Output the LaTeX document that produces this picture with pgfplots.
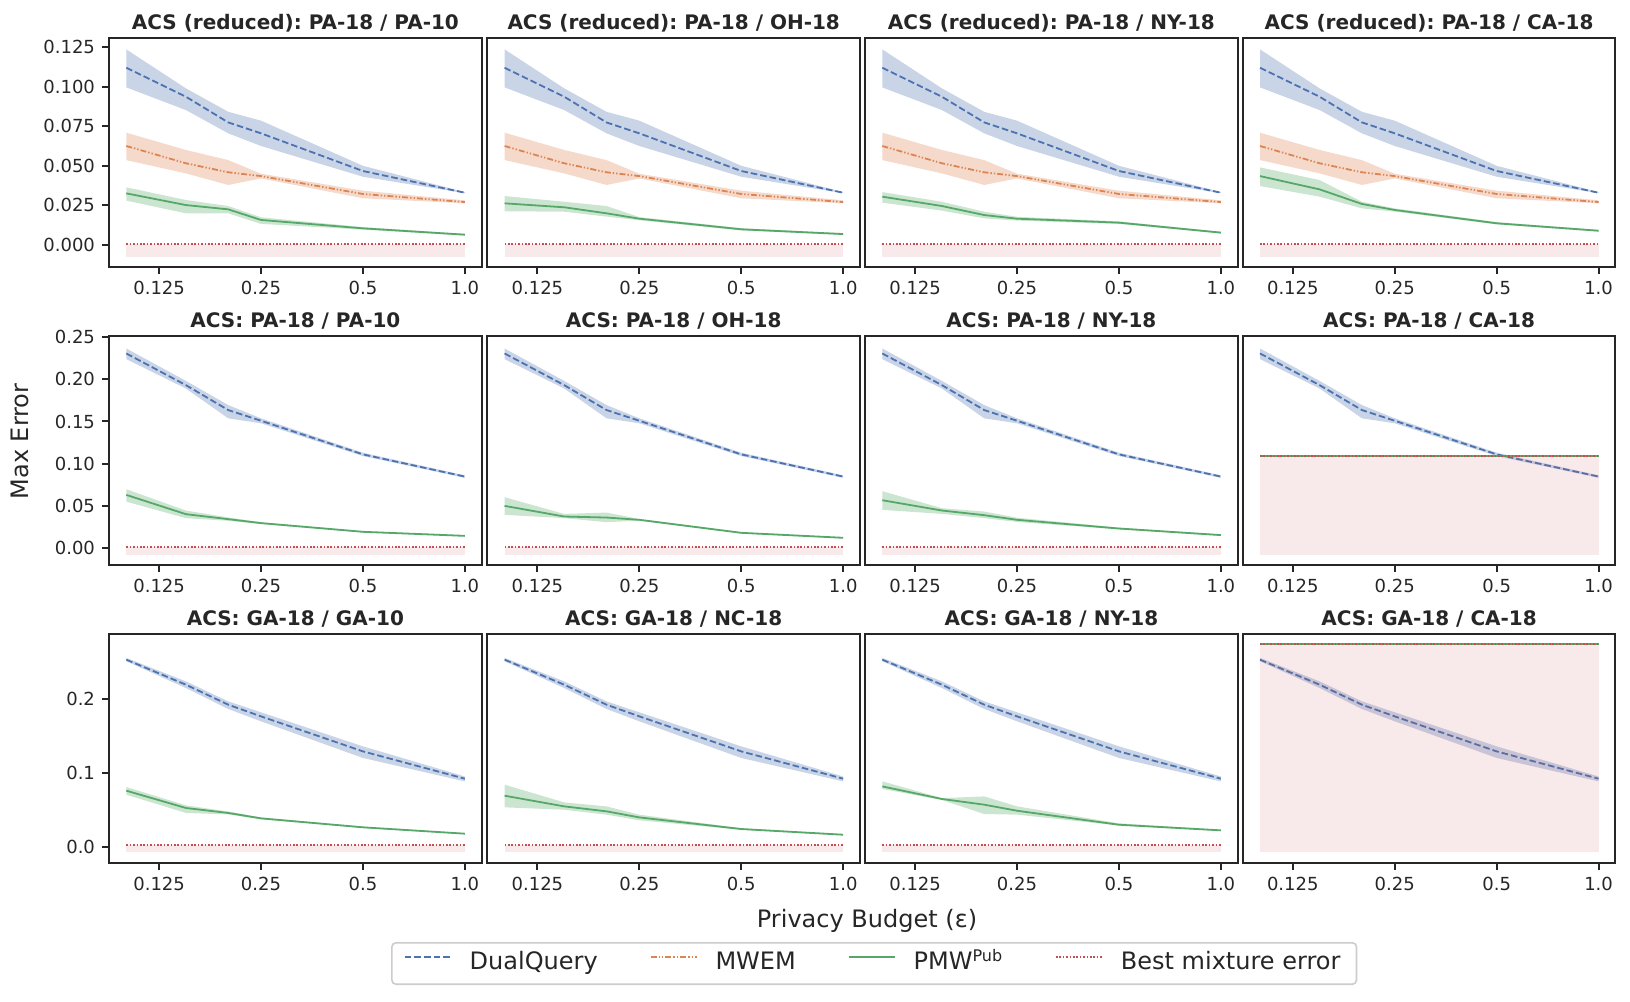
\documentclass[border=0pt]{standalone}
\usepackage{fontspec}
\setmainfont{DejaVu Sans}
\usepackage{pgfplots}
\pgfplotsset{compat=1.18}
\usepackage{pgfplotstable}

\definecolor{dq}{HTML}{4C72B0}
\definecolor{mw}{HTML}{DD8452}
\definecolor{pm}{HTML}{55A868}
\definecolor{bm}{HTML}{C44E52}
\definecolor{tg}{HTML}{262626}
\definecolor{lg}{HTML}{CCCCCC}

% mean curves (x = privacy budget, m = max error)
\pgfplotstableread{
x m
0.1 0.1119
0.15 0.0936
0.2 0.0774
0.25 0.0705
0.5 0.0467
1.0 0.0330
}\dqA
\pgfplotstableread{
x m
0.1 0.0625
0.15 0.0516
0.2 0.0459
0.25 0.0435
0.5 0.0322
1.0 0.0271
}\mwA
\pgfplotstableread{
x m
0.1 0.0326
0.15 0.0252
0.2 0.0225
0.25 0.0158
0.5 0.0105
1.0 0.0065
}\pmAa
\pgfplotstableread{
x m
0.1 0.0263
0.15 0.0238
0.2 0.0200
0.25 0.0166
0.5 0.0099
1.0 0.0069
}\pmAb
\pgfplotstableread{
x m
0.1 0.0305
0.15 0.0246
0.2 0.0189
0.25 0.0166
0.5 0.0141
1.0 0.0078
}\pmAc
\pgfplotstableread{
x m
0.1 0.0435
0.15 0.0351
0.2 0.0259
0.25 0.0221
0.5 0.0137
1.0 0.0090
}\pmAd
\pgfplotstableread{
x m
0.1 0.0005
1.0 0.0005
}\bmA
\pgfplotstableread{
x m
0.1 0.2305
0.15 0.1930
0.2 0.1635
0.25 0.1508
0.5 0.1110
1.0 0.0847
}\dqB
\pgfplotstableread{
x m
0.1 0.0630
0.15 0.0402
0.2 0.0343
0.25 0.0296
0.5 0.0193
1.0 0.0145
}\pmBa
\pgfplotstableread{
x m
0.1 0.0500
0.15 0.0374
0.2 0.0362
0.25 0.0335
0.5 0.0181
1.0 0.0122
}\pmBb
\pgfplotstableread{
x m
0.1 0.0567
0.15 0.0445
0.2 0.0390
0.25 0.0335
0.5 0.0232
1.0 0.0154
}\pmBc
\pgfplotstableread{
x m
0.1 0.1094
1.0 0.1094
}\pmBd
\pgfplotstableread{
x m
0.1 0.0015
1.0 0.0015
}\bmB
\pgfplotstableread{
x m
0.1 0.2531
0.15 0.2193
0.2 0.1923
0.25 0.1765
0.5 0.1292
1.0 0.0923
}\dqC
\pgfplotstableread{
x m
0.1 0.0761
0.15 0.0527
0.2 0.0460
0.25 0.0387
0.5 0.0266
1.0 0.0180
}\pmCa
\pgfplotstableread{
x m
0.1 0.0693
0.15 0.0549
0.2 0.0482
0.25 0.0400
0.5 0.0243
1.0 0.0166
}\pmCb
\pgfplotstableread{
x m
0.1 0.0819
0.15 0.0649
0.2 0.0572
0.25 0.0490
0.5 0.0301
1.0 0.0225
}\pmCc
\pgfplotstableread{
x m
0.1 0.2743
1.0 0.2743
}\pmCd
\pgfplotstableread{
x m
0.1 0.0022
1.0 0.0022
}\bmC

\pgfplotsset{
  dqstyle/.style={dq, line width=0.9pt, dash pattern=on 3.3pt off 1.5pt},
  mwstyle/.style={mw, line width=0.9pt, dash pattern=on 3pt off 1pt on 0.7pt off 1pt on 0.7pt off 1pt},
  pmstyle/.style={pm, line width=0.9pt},
  bmstyle/.style={bm, line width=0.9pt, dash pattern=on 0.8pt off 0.9pt},
  every axis title/.style={at={(0.5,1)}, anchor=base, yshift=4.2pt,
      font=\bfseries\fontsize{10}{12}\selectfont, text=tg},
  every axis/.append style={
    scale only axis, width=186.4pt, height=114.5pt, anchor=south west,
    xmode=log, log basis x=2, xmin=0.0889, xmax=1.122,
    xtick={0.125,0.25,0.5,1}, xticklabels={0.125,0.25,0.5,1.0},
    minor tick style={draw=none},
    axis line style={draw=tg, line width=1pt},
    major tick style={draw=tg, line width=1pt},
    major tick length=3.5pt,
    tick align=outside, xtick pos=bottom, ytick pos=left,
    ticklabel style={font=\fontsize{9}{10}\selectfont, text=tg},
    /pgf/number format/assume math mode=true,
  },
}

% band polygon: colour, opacity, coordinates (upper edge forward, lower edge back)
\newcommand{\band}[3]{%
  \addplot[fill=#1, fill opacity=#2, draw=none, forget plot] coordinates {#3};}
\newcommand{\curve}[2]{%
  \addplot[#2, forget plot] table[x=x,y=m]{#1};}

\begin{document}
\frenchspacing
\begin{tikzpicture}
\useasboundingbox (0,0) rectangle (815pt,501pt);

% ===== Row 1 =====
\begin{axis}[ymin=-0.0139, ymax=0.1307, at={(54.5pt,367.5pt)},
  ytick={0,0.025,0.05,0.075,0.1,0.125},
  yticklabels={0.000,0.025,0.050,0.075,0.100,0.125},
  title={ACS (reduced): PA-18 / PA-10}]
\band{dq}{0.3}{(0.1,0.1235) (0.15,0.0989) (0.2,0.0841) (0.25,0.0785) (0.5,0.0500) (1,0.0334) (1,0.0327) (0.5,0.0431) (0.25,0.0625) (0.2,0.0705) (0.15,0.0852) (0.1,0.0995)}
\curve{\dqA}{dqstyle}
\band{mw}{0.3}{(0.1,0.0709) (0.15,0.0600) (0.2,0.0536) (0.25,0.0450) (0.5,0.0343) (1,0.0282) (1,0.0263) (0.5,0.0295) (0.25,0.0420) (0.2,0.0379) (0.15,0.0452) (0.1,0.0536)}
\curve{\mwA}{mwstyle}
\band{pm}{0.3}{(0.1,0.0364) (0.15,0.0284) (0.2,0.0246) (0.25,0.0175) (0.5,0.0113) (1,0.0070) (1,0.0060) (0.5,0.0097) (0.25,0.0133) (0.2,0.0200) (0.15,0.0200) (0.1,0.0280)}
\curve{\pmAa}{pmstyle}
\band{bm}{0.12}{(0.1,0.0005) (1,0.0005) (1,-0.0074) (0.1,-0.0074)}
\curve{\bmA}{bmstyle}
\end{axis}
\begin{axis}[ymin=-0.0139, ymax=0.1307, ytick=\empty, at={(243.65pt,367.5pt)},
  title={ACS (reduced): PA-18 / OH-18}]
\band{dq}{0.3}{(0.1,0.1235) (0.15,0.0989) (0.2,0.0841) (0.25,0.0785) (0.5,0.0500) (1,0.0334) (1,0.0327) (0.5,0.0431) (0.25,0.0625) (0.2,0.0705) (0.15,0.0852) (0.1,0.0995)}
\curve{\dqA}{dqstyle}
\band{mw}{0.3}{(0.1,0.0709) (0.15,0.0600) (0.2,0.0536) (0.25,0.0450) (0.5,0.0343) (1,0.0282) (1,0.0263) (0.5,0.0295) (0.25,0.0420) (0.2,0.0379) (0.15,0.0452) (0.1,0.0536)}
\curve{\mwA}{mwstyle}
\band{pm}{0.3}{(0.1,0.0309) (0.15,0.0273) (0.2,0.0246) (0.25,0.0176) (0.5,0.0106) (1,0.0074) (1,0.0064) (0.5,0.0092) (0.25,0.0156) (0.2,0.0179) (0.15,0.0210) (0.1,0.0213)}
\curve{\pmAb}{pmstyle}
\band{bm}{0.12}{(0.1,0.0005) (1,0.0005) (1,-0.0074) (0.1,-0.0074)}
\curve{\bmA}{bmstyle}
\end{axis}
\begin{axis}[ymin=-0.0139, ymax=0.1307, ytick=\empty, at={(432.5pt,367.5pt)},
  title={ACS (reduced): PA-18 / NY-18}]
\band{dq}{0.3}{(0.1,0.1235) (0.15,0.0989) (0.2,0.0841) (0.25,0.0785) (0.5,0.0500) (1,0.0334) (1,0.0327) (0.5,0.0431) (0.25,0.0625) (0.2,0.0705) (0.15,0.0852) (0.1,0.0995)}
\curve{\dqA}{dqstyle}
\band{mw}{0.3}{(0.1,0.0709) (0.15,0.0600) (0.2,0.0536) (0.25,0.0450) (0.5,0.0343) (1,0.0282) (1,0.0263) (0.5,0.0295) (0.25,0.0420) (0.2,0.0379) (0.15,0.0452) (0.1,0.0536)}
\curve{\mwA}{mwstyle}
\band{pm}{0.3}{(0.1,0.0334) (0.15,0.0273) (0.2,0.0210) (0.25,0.0178) (0.5,0.0149) (1,0.0083) (1,0.0073) (0.5,0.0133) (0.25,0.0154) (0.2,0.0168) (0.15,0.0217) (0.1,0.0267)}
\curve{\pmAc}{pmstyle}
\band{bm}{0.12}{(0.1,0.0005) (1,0.0005) (1,-0.0074) (0.1,-0.0074)}
\curve{\bmA}{bmstyle}
\end{axis}
\begin{axis}[ymin=-0.0139, ymax=0.1307, ytick=\empty, at={(621.35pt,367.5pt)},
  title={ACS (reduced): PA-18 / CA-18}]
\band{dq}{0.3}{(0.1,0.1235) (0.15,0.0989) (0.2,0.0841) (0.25,0.0785) (0.5,0.0500) (1,0.0334) (1,0.0327) (0.5,0.0431) (0.25,0.0625) (0.2,0.0705) (0.15,0.0852) (0.1,0.0995)}
\curve{\dqA}{dqstyle}
\band{mw}{0.3}{(0.1,0.0709) (0.15,0.0600) (0.2,0.0536) (0.25,0.0450) (0.5,0.0343) (1,0.0282) (1,0.0263) (0.5,0.0295) (0.25,0.0420) (0.2,0.0379) (0.15,0.0452) (0.1,0.0536)}
\curve{\mwA}{mwstyle}
\band{pm}{0.3}{(0.1,0.0490) (0.15,0.0410) (0.2,0.0273) (0.25,0.0231) (0.5,0.0144) (1,0.0095) (1,0.0085) (0.5,0.0130) (0.25,0.0211) (0.2,0.0231) (0.15,0.0305) (0.1,0.0372)}
\curve{\pmAd}{pmstyle}
\band{bm}{0.12}{(0.1,0.0005) (1,0.0005) (1,-0.0074) (0.1,-0.0074)}
\curve{\bmA}{bmstyle}
\end{axis}

% ===== Row 2 =====
\begin{axis}[ymin=-0.0200, ymax=0.2512, at={(54.5pt,218.5pt)},
  ytick={0,0.05,0.1,0.15,0.2,0.25},
  yticklabels={0.00,0.05,0.10,0.15,0.20,0.25},
  title={ACS: PA-18 / PA-10}]
\band{dq}{0.3}{(0.1,0.2364) (0.15,0.1980) (0.2,0.1694) (0.25,0.1537) (0.5,0.1130) (1,0.0862) (1,0.0832) (0.5,0.1090) (0.25,0.1478) (0.2,0.1537) (0.15,0.1890) (0.1,0.2238)}
\curve{\dqB}{dqstyle}
\band{pm}{0.3}{(0.1,0.0697) (0.15,0.0445) (0.2,0.0363) (0.25,0.0306) (0.5,0.0200) (1,0.0150) (1,0.0140) (0.5,0.0186) (0.25,0.0286) (0.2,0.0323) (0.15,0.0355) (0.1,0.0550)}
\curve{\pmBa}{pmstyle}
\band{bm}{0.12}{(0.1,0.0015) (1,0.0015) (1,-0.0079) (0.1,-0.0079)}
\curve{\bmB}{bmstyle}
\end{axis}
\begin{axis}[ymin=-0.0200, ymax=0.2512, ytick=\empty, at={(243.65pt,218.5pt)},
  title={ACS: PA-18 / OH-18}]
\band{dq}{0.3}{(0.1,0.2364) (0.15,0.1980) (0.2,0.1694) (0.25,0.1537) (0.5,0.1130) (1,0.0862) (1,0.0832) (0.5,0.1090) (0.25,0.1478) (0.2,0.1537) (0.15,0.1890) (0.1,0.2238)}
\curve{\dqB}{dqstyle}
\band{pm}{0.3}{(0.1,0.0603) (0.15,0.0405) (0.2,0.0421) (0.25,0.0345) (0.5,0.0188) (1,0.0127) (1,0.0117) (0.5,0.0174) (0.25,0.0325) (0.2,0.0307) (0.15,0.0355) (0.1,0.0394)}
\curve{\pmBb}{pmstyle}
\band{bm}{0.12}{(0.1,0.0015) (1,0.0015) (1,-0.0079) (0.1,-0.0079)}
\curve{\bmB}{bmstyle}
\end{axis}
\begin{axis}[ymin=-0.0200, ymax=0.2512, ytick=\empty, at={(432.5pt,218.5pt)},
  title={ACS: PA-18 / NY-18}]
\band{dq}{0.3}{(0.1,0.2364) (0.15,0.1980) (0.2,0.1694) (0.25,0.1537) (0.5,0.1130) (1,0.0862) (1,0.0832) (0.5,0.1090) (0.25,0.1478) (0.2,0.1537) (0.15,0.1890) (0.1,0.2238)}
\curve{\dqB}{dqstyle}
\band{pm}{0.3}{(0.1,0.0674) (0.15,0.0473) (0.2,0.0433) (0.25,0.0360) (0.5,0.0242) (1,0.0160) (1,0.0148) (0.5,0.0222) (0.25,0.0310) (0.2,0.0355) (0.15,0.0405) (0.1,0.0453)}
\curve{\pmBc}{pmstyle}
\band{bm}{0.12}{(0.1,0.0015) (1,0.0015) (1,-0.0079) (0.1,-0.0079)}
\curve{\bmB}{bmstyle}
\end{axis}
\begin{axis}[ymin=-0.0200, ymax=0.2512, ytick=\empty, at={(621.35pt,218.5pt)},
  title={ACS: PA-18 / CA-18}]
\band{dq}{0.3}{(0.1,0.2364) (0.15,0.1980) (0.2,0.1694) (0.25,0.1537) (0.5,0.1130) (1,0.0862) (1,0.0832) (0.5,0.1090) (0.25,0.1478) (0.2,0.1537) (0.15,0.1890) (0.1,0.2238)}
\curve{\dqB}{dqstyle}
\curve{\pmBd}{pmstyle}
\band{bm}{0.12}{(0.1,0.1094) (1,0.1094) (1,-0.0079) (0.1,-0.0079)}
\curve{\pmBd}{bmstyle}
\end{axis}

% ===== Row 3 =====
\begin{axis}[ymin=-0.0216, ymax=0.2878, at={(54.5pt,69.5pt)},
  ytick={0,0.1,0.2}, yticklabels={0.0,0.1,0.2},
  title={ACS: GA-18 / GA-10}]
\band{dq}{0.3}{(0.1,0.2555) (0.15,0.2238) (0.2,0.1968) (0.25,0.1820) (0.5,0.1360) (1,0.0953) (1,0.0886) (0.5,0.1203) (0.25,0.1698) (0.2,0.1865) (0.15,0.2148) (0.1,0.2510)}
\curve{\dqC}{dqstyle}
\band{pm}{0.3}{(0.1,0.0811) (0.15,0.0563) (0.2,0.0480) (0.25,0.0399) (0.5,0.0274) (1,0.0185) (1,0.0175) (0.5,0.0258) (0.25,0.0375) (0.2,0.0440) (0.15,0.0460) (0.1,0.0707)}
\curve{\pmCa}{pmstyle}
\band{bm}{0.12}{(0.1,0.0022) (1,0.0022) (1,-0.0073) (0.1,-0.0073)}
\curve{\bmC}{bmstyle}
\end{axis}
\begin{axis}[ymin=-0.0216, ymax=0.2878, ytick=\empty, at={(243.65pt,69.5pt)},
  title={ACS: GA-18 / NC-18}]
\band{dq}{0.3}{(0.1,0.2555) (0.15,0.2238) (0.2,0.1968) (0.25,0.1820) (0.5,0.1360) (1,0.0953) (1,0.0886) (0.5,0.1203) (0.25,0.1698) (0.2,0.1865) (0.15,0.2148) (0.1,0.2510)}
\curve{\dqC}{dqstyle}
\band{pm}{0.3}{(0.1,0.0842) (0.15,0.0603) (0.2,0.0549) (0.25,0.0437) (0.5,0.0253) (1,0.0172) (1,0.0160) (0.5,0.0233) (0.25,0.0360) (0.2,0.0437) (0.15,0.0504) (0.1,0.0536)}
\curve{\pmCb}{pmstyle}
\band{bm}{0.12}{(0.1,0.0022) (1,0.0022) (1,-0.0073) (0.1,-0.0073)}
\curve{\bmC}{bmstyle}
\end{axis}
\begin{axis}[ymin=-0.0216, ymax=0.2878, ytick=\empty, at={(432.5pt,69.5pt)},
  title={ACS: GA-18 / NY-18}]
\band{dq}{0.3}{(0.1,0.2555) (0.15,0.2238) (0.2,0.1968) (0.25,0.1820) (0.5,0.1360) (1,0.0953) (1,0.0886) (0.5,0.1203) (0.25,0.1698) (0.2,0.1865) (0.15,0.2148) (0.1,0.2510)}
\curve{\dqC}{dqstyle}
\band{pm}{0.3}{(0.1,0.0887) (0.15,0.0660) (0.2,0.0684) (0.25,0.0549) (0.5,0.0320) (1,0.0232) (1,0.0218) (0.5,0.0290) (0.25,0.0437) (0.2,0.0446) (0.15,0.0635) (0.1,0.0784)}
\curve{\pmCc}{pmstyle}
\band{bm}{0.12}{(0.1,0.0022) (1,0.0022) (1,-0.0073) (0.1,-0.0073)}
\curve{\bmC}{bmstyle}
\end{axis}
\begin{axis}[ymin=-0.0216, ymax=0.2878, ytick=\empty, at={(621.35pt,69.5pt)},
  title={ACS: GA-18 / CA-18},
  legend columns=4,
  legend image code/.code={\draw[#1] (0pt,3.4pt) -- (23pt,3.4pt);},
  legend style={at={(-0.9885,-0.4389)}, anchor=center,
    draw=lg, line width=0.8pt, rounded corners=2pt, fill=white,
    font=\fontsize{12}{14}\selectfont, text=tg,
    inner xsep=6pt, inner ysep=3pt,
    nodes={text height=0.85em, text depth=0.22em},
    /tikz/every even column/.append style={column sep=24pt},
    /tikz/every odd column/.append style={column sep=7pt}},
  legend cell align=left]
\band{dq}{0.3}{(0.1,0.2555) (0.15,0.2238) (0.2,0.1968) (0.25,0.1820) (0.5,0.1360) (1,0.0953) (1,0.0886) (0.5,0.1203) (0.25,0.1698) (0.2,0.1865) (0.15,0.2148) (0.1,0.2510)}
\curve{\dqC}{dqstyle}
\curve{\pmCd}{pmstyle}
\band{bm}{0.12}{(0.1,0.2743) (1,0.2743) (1,-0.0073) (0.1,-0.0073)}
\curve{\pmCd}{bmstyle}
\addlegendimage{dqstyle}
\addlegendentry{DualQuery}
\addlegendimage{mwstyle}
\addlegendentry{MWEM}
\addlegendimage{pmstyle}
\addlegendentry{PMW\textsuperscript{Pub}}
\addlegendimage{bmstyle}
\addlegendentry{Best mixture error}
\end{axis}

\node[font=\fontsize{12}{14}\selectfont, text=tg] at (433.5pt,40.5pt) {Privacy Budget (ε)};
\node[font=\fontsize{12}{14}\selectfont, text=tg, rotate=90] at (10pt,280.25pt) {Max Error};
\end{tikzpicture}
\end{document}
